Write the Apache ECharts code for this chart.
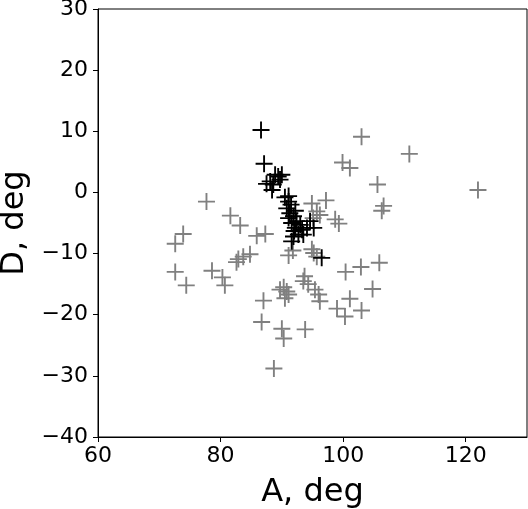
<!DOCTYPE html>
<html>
<head>
<meta charset="utf-8">
<script src="https://cdn.jsdelivr.net/npm/echarts@6/dist/echarts.min.js"></script>
<style>html,body{margin:0;padding:0;background:#fff}#c{width:528px;height:509px}</style>
</head>
<body>
<div id="c"></div>
<script>
const greyPoints = [
  [122.0, 0.4], [110.8, 6.3], [103.0, 9.1], [99.9, 4.9], [101.1, 4.0],
  [105.6, 1.3], [106.6, -2.2], [106.3, -3.0], [97.2, -1.3], [94.9, -1.8],
  [95.7, -3.1], [96.2, -3.7], [98.7, -4.4], [99.3, -5.1], [95.2, -9.9],
  [95.7, -10.5], [100.4, -13.0], [102.9, -12.2], [105.9, -11.5], [93.7, -13.7],
  [94.3, -15.0], [95.4, -15.9], [96.2, -17.8], [104.8, -15.8], [101.1, -17.4],
  [99.0, -19.0], [100.3, -20.3], [103.0, -19.3], [93.8, -22.4], [72.6, -13.0],
  [74.4, -15.2], [78.6, -12.8], [80.3, -13.9], [80.7, -15.2], [82.6, -11.4],
  [83.7, -10.5], [84.8, -10.1], [91.1, -10.3], [90.3, -15.5], [90.8, -16.2],
  [89.7, -15.9], [91.1, -16.7], [90.5, -17.3], [87.0, -17.7], [93.5, -14.5],
  [96.0, -16.7], [86.7, -21.2], [90.0, -22.3], [90.3, -23.9], [88.7, -28.8],
  [77.7, -1.5], [81.6, -3.8], [83.2, -5.4], [85.9, -7.1], [87.3, -6.8],
  [73.9, -6.8], [72.6, -8.4], [82.9, -10.9], [91.8, -9.5], [94.9, -9.3],
  [95.1, -4.2]
];
const blackPoints = [
  [86.6, 10.2], [87.1, 4.7], [88.9, 2.9], [90.0, 2.9], [89.7, 2.1],
  [88.1, 1.8], [88.6, 1.3], [87.5, 1.4], [88.4, 0.4], [89.4, 2.6],
  [91.1, -0.6], [90.5, -0.8], [91.1, -1.5], [90.8, -2.6], [91.3, -3.4],
  [91.1, -4.2], [91.9, -3.9], [91.6, -5.0], [92.4, -4.7], [93.0, -5.3],
  [92.2, -5.8], [93.3, -6.1], [94.1, -5.8], [95.2, -5.8], [94.6, -4.7],
  [93.5, -6.9], [91.9, -7.2], [92.7, -6.9], [91.6, -8.0], [92.0, -6.3],
  [91.5, -2.0], [92.2, -3.0], [96.5, -10.7]
];
const xTicks = {min: 60, max: 130, interval: 20};
const yTicks = {min: -40, max: 30, interval: 10};
const xTitle = 'A, deg';
const yTitle = 'D, deg';

const plus = 'path://M8,0 H10 V8 H18 V10 H10 V18 H8 V10 H0 V8 H8 Z';
const font = 'DejaVu Sans';
const chart = echarts.init(document.getElementById('c'), null, {renderer: 'canvas'});
const axisCommon = {
  axisLine: {show: true, onZero: false, lineStyle: {color: '#000', width: 1}},
  axisTick: {show: true, length: 5, inside: false, lineStyle: {color: '#000', width: 1}},
  splitLine: {show: false},
  nameTextStyle: {fontFamily: font, fontSize: 32, color: '#000'},
  nameLocation: 'middle'
};
chart.setOption({
  animation: false,
  backgroundColor: '#fff',
  grid: {left: 98, top: 9, right: 1, bottom: 72, show: true, borderColor: '#000', borderWidth: 1,
         containLabel: false, outerBoundsMode: 'none'},
  xAxis: Object.assign({}, axisCommon, {
    type: 'value', min: xTicks.min, max: xTicks.max, interval: xTicks.interval,
    name: xTitle, nameGap: 40,
    axisLabel: {fontFamily: font, fontSize: 22, color: '#000', margin: 8, showMaxLabel: false}
  }),
  yAxis: Object.assign({}, axisCommon, {
    type: 'value', min: yTicks.min, max: yTicks.max, interval: yTicks.interval,
    name: yTitle, nameGap: 56,
    axisLabel: {fontFamily: font, fontSize: 22, color: '#000', margin: 10,
      formatter: v => (v < 0 ? '\u2212' + Math.abs(v) : String(v))}
  }),
  series: [
    {type: 'scatter', data: greyPoints, symbol: plus, symbolSize: 17,
     itemStyle: {color: '#808080', opacity: 1}, z: 2},
    {type: 'scatter', data: blackPoints, symbol: plus, symbolSize: 17,
     itemStyle: {color: '#000', opacity: 1}, z: 3}
  ]
});
</script>
</body>
</html>
